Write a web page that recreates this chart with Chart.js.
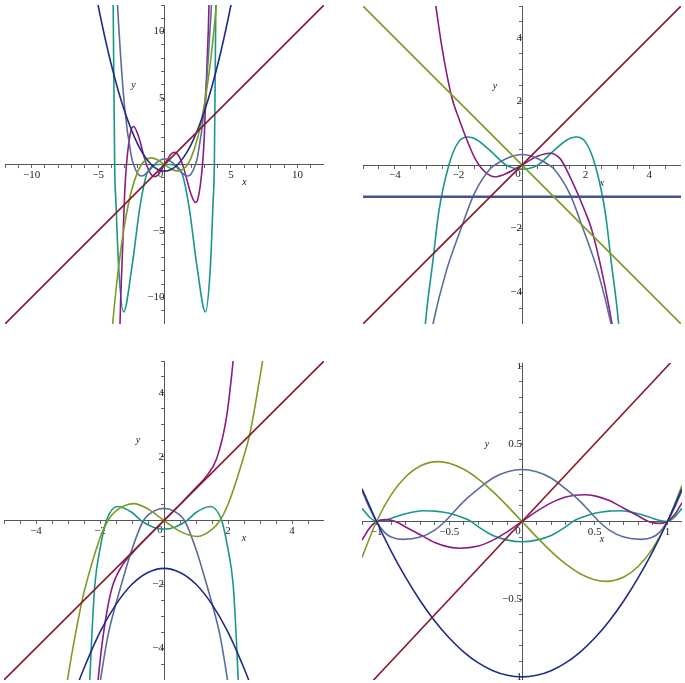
<!DOCTYPE html>
<html><head><meta charset="utf-8">
<script src="https://cdn.jsdelivr.net/npm/chart.js@4.4.1/dist/chart.umd.min.js"></script>
<style>
html,body{margin:0;padding:0;background:#fff;width:685px;height:683px;overflow:hidden;}
.p{position:absolute;}
canvas{display:block;}
</style></head><body>
<div class="p" style="left:5px;top:5px;"><canvas id="c1" width="319" height="319"></canvas></div>
<div class="p" style="left:363px;top:6px;"><canvas id="c2" width="318" height="318"></canvas></div>
<div class="p" style="left:4px;top:361px;"><canvas id="c3" width="320" height="319"></canvas></div>
<div class="p" style="left:362px;top:363px;"><canvas id="c4" width="320" height="317"></canvas></div>
<script>
// ---------- colours ----------
const RED = '#871C2C', NAVY = '#1F2C86', OLIVE = '#7E9B22', PURPLE = '#8A1C84', SLATE = '#5B6C9E', TEAL = '#1A968A';

// ---------- panel 1 (top left) ----------
const p1RedX = [-12, 12];
const p1RedY = [-12, 12];
const p1NavyX = [-5.3, -5, -4.5, -4, -3.5, -3, -2.5, -2, -1.5, -1, -0.5, 0, 0.5, 1, 1.5, 2, 2.5, 3, 3.5, 4, 4.5, 5, 5.3];
const p1NavyY = [13.55, 12, 9.63, 7.5, 5.63, 4, 2.63, 1.5, 0.63, 0, -0.38, -0.5, -0.38, 0, 0.63, 1.5, 2.63, 4, 5.63, 7.5, 9.63, 12, 13.55];
const p1OliveX = [-4.05, -4, -3.5, -3, -2.5, -2, -1.73, -1.5, -1, -0.5, 0, 0.5, 1, 1.5, 1.73, 2, 2.5, 3, 3.5, 4, 4.05];
const p1OliveY = [-13.57, -13, -8.09, -4.5, -2.03, -0.5, 0, 0.28, 0.5, 0.34, 0, -0.34, -0.5, -0.28, 0, 0.5, 2.03, 4.5, 8.09, 13, 13.57];
const p1SlateX = [-3.65, -3.5, -3, -2.5, -2.33, -2, -1.73, -1.5, -1, -0.74, -0.5, 0, 0.5, 0.74, 1, 1.5, 1.73, 2, 2.33, 2.5, 3, 3.5, 3.65];
const p1SlateY = [14.4, 11.37, 4.29, 0.65, 0, -0.71, -0.86, -0.78, -0.29, 0, 0.22, 0.43, 0.22, 0, -0.29, -0.78, -0.86, -0.71, 0, 0.65, 4.29, 11.37, 14.4];
const p1PurpleX = [-3.4, -3.3, -3, -2.86, -2.5, -2.33, -2, -1.5, -1.36, -1, -0.74, -0.5, 0, 0.5, 0.74, 1, 1.36, 1.5, 2, 2.33, 2.5, 2.86, 3, 3.3, 3.4];
const p1PurpleY = [-14.05, -10.19, -2.25, 0, 2.64, 2.86, 2.25, 0.46, 0, -0.75, -0.91, -0.79, 0, 0.79, 0.91, 0.75, 0, -0.46, -2.25, -2.86, -2.64, 0, 2.25, 10.19, 14.05];
const p1TealX = [-3.9, -3.86, -3.75, -3.65, -3.45, -3.08, -2.45, -1.85, -1.35, -1, -0.5, 0, 0.5, 1, 1.35, 1.85, 2.45, 3.08, 3.45, 3.65, 3.75, 3.86, 3.9];
const p1TealY = [17, 12, 0, -2.9, -7.7, -11.1, -7.7, -3.2, -0.75, -0.2, 0, 0, 0, -0.2, -0.75, -3.2, -7.7, -11.1, -7.7, -2.9, 0, 12, 17];
const p1XTickLabels = [-10, -5, 5, 10];
const p1YTickLabels = [-10, -5, 5, 10];

// ---------- panel 2 (top right) ----------
const p2RedX = [-5, 5];
const p2RedY = [-5, 5];
const p2OliveX = [-5, 5];
const p2OliveY = [5, -5];
const p2FlatX = [-5, 5];
const p2FlatY = [-1, -1];
const p2SlateX = [-2.95, -2.8, -2.4, -1.94, -1.5, -1, -0.85, -0.5, 0, 0.5, 0.85, 1, 1.5, 1.94, 2.4, 2.8, 2.95];
const p2SlateY = [-5.8, -5, -3.4, -2.06, -0.9, -0.12, 0, 0.2, 0.33, 0.2, 0, -0.12, -0.9, -2.06, -3.4, -5, -5.8];
const p2PurpleX = [-2.8, -2.72, -2.5, -2.2, -2, -1.5, -1.2, -0.85, -0.5, 0, 0.5, 0.87, 1.2, 1.5, 2, 2.2, 2.5, 2.83, 2.95];
const p2PurpleY = [5.7, 5.08, 3.6, 2.1, 1.5, 0.25, -0.18, -0.37, -0.27, 0, 0.28, 0.37, 0.2, -0.35, -1.5, -2.06, -3.3, -5.0, -5.8];
const p2TealX = [-3.1, -3.04, -2.8, -2.62, -2.3, -2.0, -1.7, -1.4, -1.0, -0.5, -0.25, 0, 0.25, 0.5, 1.0, 1.4, 1.7, 2.0, 2.3, 2.62, 2.8, 3.04, 3.1];
const p2TealY = [-5.8, -5, -3.0, -1.5, 0, 0.72, 0.88, 0.78, 0.45, 0, -0.1, -0.13, -0.1, 0, 0.45, 0.78, 0.88, 0.72, 0, -1.5, -3.0, -5, -5.8];
const p2XTickLabels = [-4, -2, 2, 4];
const p2YTickLabels = [-4, -2, 2, 4];

// ---------- panel 3 (bottom left) ----------
const p3RedX = [-5, 5];
const p3RedY = [-5, 5];
const p3NavyX = [-3, -2.65, -2.5, -2, -1.5, -1, -0.5, 0, 0.5, 1, 1.5, 2, 2.5, 2.65, 3];
const p3NavyY = [-6, -5.01, -4.63, -3.5, -2.63, -2, -1.63, -1.5, -1.63, -2, -2.63, -3.5, -4.63, -5.01, -6];
const p3OliveX = [-3.1, -3, -2.58, -2.5, -2, -1.75, -1.5, -0.95, -0.5, 0, 0.5, 1.05, 1.5, 1.75, 2, 2.5, 2.68, 3, 3.09, 3.2];
const p3OliveY = [-5.6, -4.9, -2.6, -2.25, -0.55, 0, 0.3, 0.53, 0.36, 0, -0.34, -0.5, -0.28, 0, 0.5, 2.03, 2.7, 4.5, 5.06, 5.79];
const p3PurpleX = [-2.15, -2.06, -1.9, -1.65, -1.3, -1, -0.5, 0, 0.5, 1, 1.3, 1.65, 1.96, 2.16, 2.25];
const p3PurpleY = [-6, -5, -3.6, -2.2, -1.4, -1.03, -0.5, 0, 0.5, 1.03, 1.36, 1.95, 3.28, 5, 6];
const p3TealX = [-2.4, -2.32, -2.25, -2.16, -2.0, -1.8, -1.45, -1.0, -0.72, -0.35, 0, 0.35, 0.72, 1.0, 1.45, 1.8, 2.0, 2.16, 2.25, 2.32, 2.4];
const p3TealY = [-6.3, -5, -3.5, -2.0, -0.9, 0, 0.44, 0.25, 0, -0.2, -0.27, -0.2, 0, 0.25, 0.44, 0, -0.9, -2.0, -3.5, -5, -6.3];
const p3SlateX = [-2.1, -2.0, -1.75, -1.5, -1.2, -1.0, -0.64, -0.3, 0, 0.3, 0.64, 1.0, 1.2, 1.5, 1.75, 2.0, 2.1];
const p3SlateY = [-5.8, -5.1, -3.6, -2.6, -1.55, -0.9, 0, 0.3, 0.38, 0.3, 0, -0.9, -1.55, -2.6, -3.6, -5.1, -5.8];
const p3XTickLabels = [-4, -2, 2, 4];
const p3YTickLabels = [-4, -2, 2, 4];

// ---------- panel 4 (bottom right) ----------
const p4RedX = [-1.1, 1.1];
const p4RedY = [-1.1, 1.1];
const p4NavyX = [-1.1, -1, -0.9, -0.8, -0.7, -0.6, -0.5, -0.4, -0.3, -0.2, -0.1, 0, 0.1, 0.2, 0.3, 0.4, 0.5, 0.6, 0.7, 0.8, 0.9, 1, 1.1];
const p4NavyY = [0.21, 0, -0.19, -0.36, -0.51, -0.64, -0.75, -0.84, -0.91, -0.96, -0.99, -1, -0.99, -0.96, -0.91, -0.84, -0.75, -0.64, -0.51, -0.36, -0.19, 0, 0.21];
const p4OliveX = [-1.1, -1, -0.9, -0.8, -0.7, -0.577, -0.5, -0.4, -0.3, -0.2, -0.1, 0, 0.1, 0.2, 0.3, 0.4, 0.5, 0.577, 0.7, 0.8, 0.9, 1, 1.1];
const p4OliveY = [-0.231, 0, 0.171, 0.288, 0.357, 0.385, 0.375, 0.336, 0.273, 0.192, 0.099, 0, -0.099, -0.192, -0.273, -0.336, -0.375, -0.385, -0.357, -0.288, -0.171, 0, 0.231];
const p4SlateX = [-1.1, -1.05, -1, -0.95, -0.9, -0.82, -0.7, -0.6, -0.53, -0.4, -0.3, -0.2, -0.1, 0, 0.1, 0.2, 0.3, 0.4, 0.53, 0.6, 0.7, 0.82, 0.9, 0.95, 1, 1.05, 1.1];
const p4SlateY = [0.2, 0.09, 0, -0.065, -0.1, -0.115, -0.1, -0.055, 0, 0.13, 0.21, 0.28, 0.32, 0.335, 0.32, 0.28, 0.21, 0.13, 0, -0.055, -0.1, -0.115, -0.1, -0.065, 0, 0.09, 0.2];
const p4PurpleX = [-1.1, -1.05, -1, -0.94, -0.87, -0.8, -0.7, -0.6, -0.5, -0.43, -0.3, -0.2, -0.1, 0, 0.1, 0.2, 0.3, 0.43, 0.5, 0.6, 0.7, 0.8, 0.87, 0.94, 1, 1.05, 1.1];
const p4PurpleY = [-0.12, -0.045, 0, 0.012, 0, -0.035, -0.085, -0.135, -0.165, -0.172, -0.158, -0.12, -0.065, 0, 0.065, 0.12, 0.158, 0.172, 0.165, 0.135, 0.085, 0.035, 0, -0.012, 0, 0.045, 0.12];
const p4TealX = [-1.1, -1.05, -1, -0.95, -0.9, -0.8, -0.68, -0.6, -0.5, -0.4, -0.35, -0.3, -0.2, -0.1, 0, 0.1, 0.2, 0.3, 0.35, 0.4, 0.5, 0.6, 0.68, 0.8, 0.9, 0.95, 1, 1.05, 1.1];
const p4TealY = [0.085, 0.03, 0, 0.006, 0.02, 0.05, 0.069, 0.067, 0.053, 0.022, 0, -0.035, -0.09, -0.12, -0.13, -0.12, -0.09, -0.035, 0, 0.022, 0.053, 0.067, 0.069, 0.05, 0.02, 0.006, 0, 0.03, 0.085];
const p4XTickLabels = [-1, -0.5, 0.5, 1];
const p4YTickLabels = [-1, -0.5, 0.5, 1];

// ---------- helpers ----------
function pts(xs, ys) { return xs.map((x, i) => ({x: x, y: ys[i]})); }
function fmt(v) { return (v < 0 ? '\u2212' : '') + String(Math.abs(v)); }
function line(xs, ys, color, width) {
  return { data: pts(xs, ys), borderColor: color, backgroundColor: color, borderWidth: width || 1.6,
           pointRadius: 0, showLine: true, fill: false, cubicInterpolationMode: 'monotone' };
}
function zeroPad(s) { s.paddingLeft = 0; s.paddingRight = 0; s.paddingTop = 0; s.paddingBottom = 0; }
function tickBuilder(tmin, tmax, step) {
  return function (scale) {
    const t = []; const n = Math.round((tmax - tmin) / step);
    for (let i = 0; i <= n; i++) t.push({value: Math.round((tmin + i * step) * 1e6) / 1e6});
    scale.ticks = t;
  };
}
const TICK_FONT = {family: '"Liberation Serif", "DejaVu Serif", serif', size: 11};
function axis(kind, min, max, tmin, tmax, step, labels) {
  const isX = kind === 'x';
  return {
    type: 'linear', min: min, max: max,
    position: isX ? {y: 0} : {x: 0},
    afterBuildTicks: tickBuilder(tmin, tmax, step),
    afterFit: zeroPad,
    ticks: {
      autoSkip: false, maxRotation: 0, minRotation: 0, includeBounds: false,
      padding: isX ? 1 : 2, color: '#222', font: TICK_FONT,
      callback: function (v) {
        for (const l of labels) if (Math.abs(l - v) < 1e-6) return fmt(l);
        return '';
      }
    },
    grid: {drawOnChartArea: false, drawTicks: true, tickLength: 3, color: '#666', lineWidth: 1},
    border: {display: true, color: '#555', width: 1}
  };
}
const axisText = {
  id: 'axisText',
  beforeDatasetsDraw(chart, args, o) {
    const ctx = chart.ctx, sx = chart.scales.x, sy = chart.scales.y;
    const ox = sx.getPixelForValue(0), oy = sy.getPixelForValue(0);
    ctx.save();
    ctx.fillStyle = '#222';
    ctx.font = '11px "Liberation Serif", serif';
    ctx.textAlign = 'center'; ctx.textBaseline = 'top';
    ctx.fillText('0', ox - 4, oy + 4);
    ctx.font = 'italic 10px "Liberation Serif", serif';
    ctx.textBaseline = 'middle';
    ctx.fillText('x', ox + o.xDx, oy + o.xDy);
    ctx.fillText('y', ox + o.yDx, oy + o.yDy);
    ctx.restore();
  }
};
function make(id, datasets, xa, ya, off) {
  new Chart(document.getElementById(id), {
    type: 'scatter',
    data: {datasets: datasets},
    options: {
      responsive: false, animation: false, events: [],
      layout: {padding: 0},
      plugins: {legend: {display: false}, tooltip: {enabled: false}, axisText: off},
      scales: {x: xa, y: ya}
    },
    plugins: [axisText]
  });
}

make('c1', [
  line(p1RedX, p1RedY, RED),
  line(p1NavyX, p1NavyY, NAVY),
  line(p1OliveX, p1OliveY, OLIVE),
  line(p1SlateX, p1SlateY, SLATE),
  line(p1PurpleX, p1PurpleY, PURPLE),
  line(p1TealX, p1TealY, TEAL)
], axis('x', -12, 12, -12, 12, 1, p1XTickLabels), axis('y', -12, 12, -12, 12, 1, p1YTickLabels),
  {xDx: 80, xDy: 18, yDx: -31, yDy: -79});

make('c2', [
  line(p2RedX, p2RedY, RED),
  line(p2OliveX, p2OliveY, OLIVE),
  line(p2FlatX, p2FlatY, '#44548C', 2.4),
  line(p2SlateX, p2SlateY, SLATE),
  line(p2PurpleX, p2PurpleY, PURPLE),
  line(p2TealX, p2TealY, TEAL)
], axis('x', -5, 5, -5, 5, 0.5, p2XTickLabels), axis('y', -5, 5, -5, 5, 0.5, p2YTickLabels),
  {xDx: 80, xDy: 18, yDx: -27, yDy: -79});

make('c3', [
  line(p3RedX, p3RedY, RED),
  line(p3NavyX, p3NavyY, NAVY),
  line(p3OliveX, p3OliveY, OLIVE),
  line(p3SlateX, p3SlateY, SLATE),
  line(p3TealX, p3TealY, TEAL),
  line(p3PurpleX, p3PurpleY, PURPLE)
], axis('x', -5, 5, -5, 5, 0.5, p3XTickLabels), axis('y', -5, 5, -5, 5, 0.5, p3YTickLabels),
  {xDx: 80, xDy: 18, yDx: -26, yDy: -80});

make('c4', [
  line(p4RedX, p4RedY, RED),
  line(p4NavyX, p4NavyY, NAVY),
  line(p4OliveX, p4OliveY, OLIVE),
  line(p4SlateX, p4SlateY, SLATE),
  line(p4PurpleX, p4PurpleY, PURPLE),
  line(p4TealX, p4TealY, TEAL)
], axis('x', -1.1, 1.1, -1.1, 1.1, 0.1, p4XTickLabels), axis('y', -1.02, 1.02, -1, 1, 0.1, p4YTickLabels),
  {xDx: 80, xDy: 18, yDx: -35, yDy: -77});
</script>
</body></html>
